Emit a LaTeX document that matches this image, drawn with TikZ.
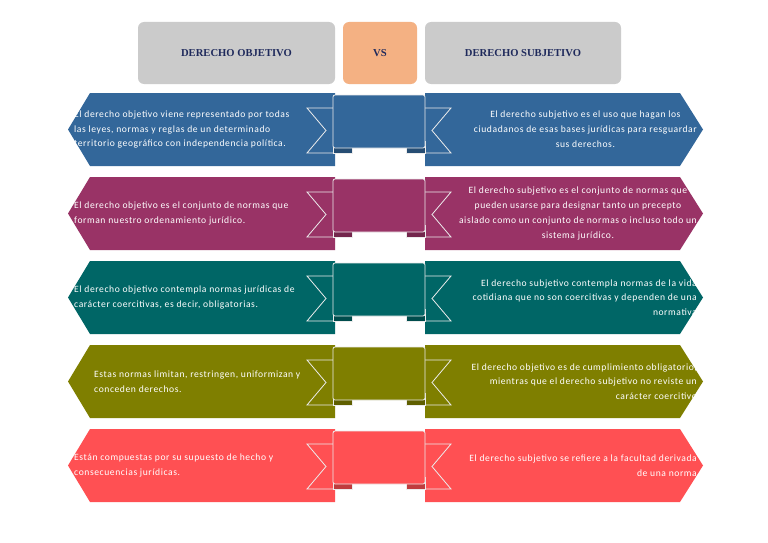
\documentclass[tikz,border=0pt]{standalone}
\usepackage{fontspec}
\setmainfont{Carlito}
\newfontfamily\cuerpo[LetterSpace=6]{Carlito}
\newfontfamily\titulo{Liberation Serif}
\usetikzlibrary{positioning}
\definecolor{azul}{HTML}{33679A}
\definecolor{vino}{HTML}{993366}
\definecolor{verde}{HTML}{006666}
\definecolor{oliva}{HTML}{7F7F00}
\definecolor{rojo}{HTML}{FF5053}
\definecolor{gris}{HTML}{CBCBCB}
\definecolor{naranja}{HTML}{F4B183}
\definecolor{marino}{HTML}{1F2A5C}
% one row: top, colour, name, left text, right alignment, right text
\newcommand\Fila[6]{%
  \fill[#2] (90,#1) -- (335,#1) -- (335,#1+73) -- (90,#1+73) -- (68,#1+36.5) -- cycle;
  \fill[#2] (425,#1) -- (680,#1) -- (703,#1+36.5) -- (680,#1+73) -- (425,#1+73) -- cycle;
  \draw[cinta,fill=#2] (307,#1+15) -- (350,#1+15) -- (350,#1+60) -- (307,#1+60) -- (326,#1+37.5) -- cycle;
  \draw[cinta,fill=#2] (451,#1+15) -- (408,#1+15) -- (408,#1+60) -- (451,#1+60) -- (432,#1+37.5) -- cycle;
  \draw[cinta,fill=#2!75!black] (333,#1+48) rectangle (352,#1+60);
  \draw[cinta,fill=#2!75!black] (406,#1+48) rectangle (425,#1+60);
  \draw[cinta,fill=#2,rounded corners=2pt] (333,#1+2) rectangle (425,#1+55);
  \node[texto,align=left,anchor=west] (#3i) at (74,#1+36.5) {#4};
  \node[texto,align=#5,anchor=east] (#3d) at (697,#1+36.5) {#6};}
\begin{document}
\begin{tikzpicture}[x=1pt,y=-1pt]
  \tikzstyle{cabeza}=[fill=gris,rounded corners=6pt,minimum height=62pt,font=\titulo\bfseries\fontsize{10.6}{12}\selectfont,text=marino]
  \tikzstyle{cinta}=[draw=white!85!gray,line width=0.8pt]
  \tikzstyle{texto}=[text=white,font=\cuerpo\fontsize{9.6}{14.8}\selectfont,inner sep=0pt]
  \useasboundingbox (0,0) rectangle (768,543);
  \fill[white] (0,0) rectangle (768,543);
  \node[cabeza,minimum width=197pt] (objetivo) at (236.5,53) {DERECHO OBJETIVO};
  \node[cabeza,minimum width=74pt,fill=naranja] (vs) at (380,53) {VS};
  \node[cabeza,minimum width=196pt] (subjetivo) at (523,53) {DERECHO SUBJETIVO};
  \Fila{93}{azul}{uno}{El derecho objetivo viene representado por todas\\las leyes, normas y reglas de un determinado\\territorio geográfico con independencia política.}{center}{El derecho subjetivo es el uso que hagan los\\ciudadanos de esas bases jurídicas para resguardar\\sus derechos.}
  \Fila{177}{vino}{dos}{El derecho objetivo es el conjunto de normas que\\forman nuestro ordenamiento jurídico.}{center}{El derecho subjetivo es el conjunto de normas que\\pueden usarse para designar tanto un precepto\\aislado como un conjunto de normas o incluso todo un\\sistema jurídico.}
  \Fila{261}{verde}{tres}{El derecho objetivo contempla normas jurídicas de\\carácter coercitivas, es decir, obligatorias.}{right}{El derecho subjetivo contempla normas de la vida\\cotidiana que no son coercitivas y dependen de una\\normativa}
  \Fila{345}{oliva}{cuatro}{\hspace*{20pt}Estas normas limitan, restringen, uniformizan y\\\hspace*{20pt}conceden derechos.}{right}{El derecho objetivo es de cumplimiento obligatorio,\\mientras que el derecho subjetivo no reviste un\\carácter coercitivo}
  \Fila{429}{rojo}{cinco}{Están compuestas por su supuesto de hecho y\\consecuencias jurídicas.}{right}{El derecho subjetivo se refiere a la facultad derivada\\de una norma}
\end{tikzpicture}
\end{document}
